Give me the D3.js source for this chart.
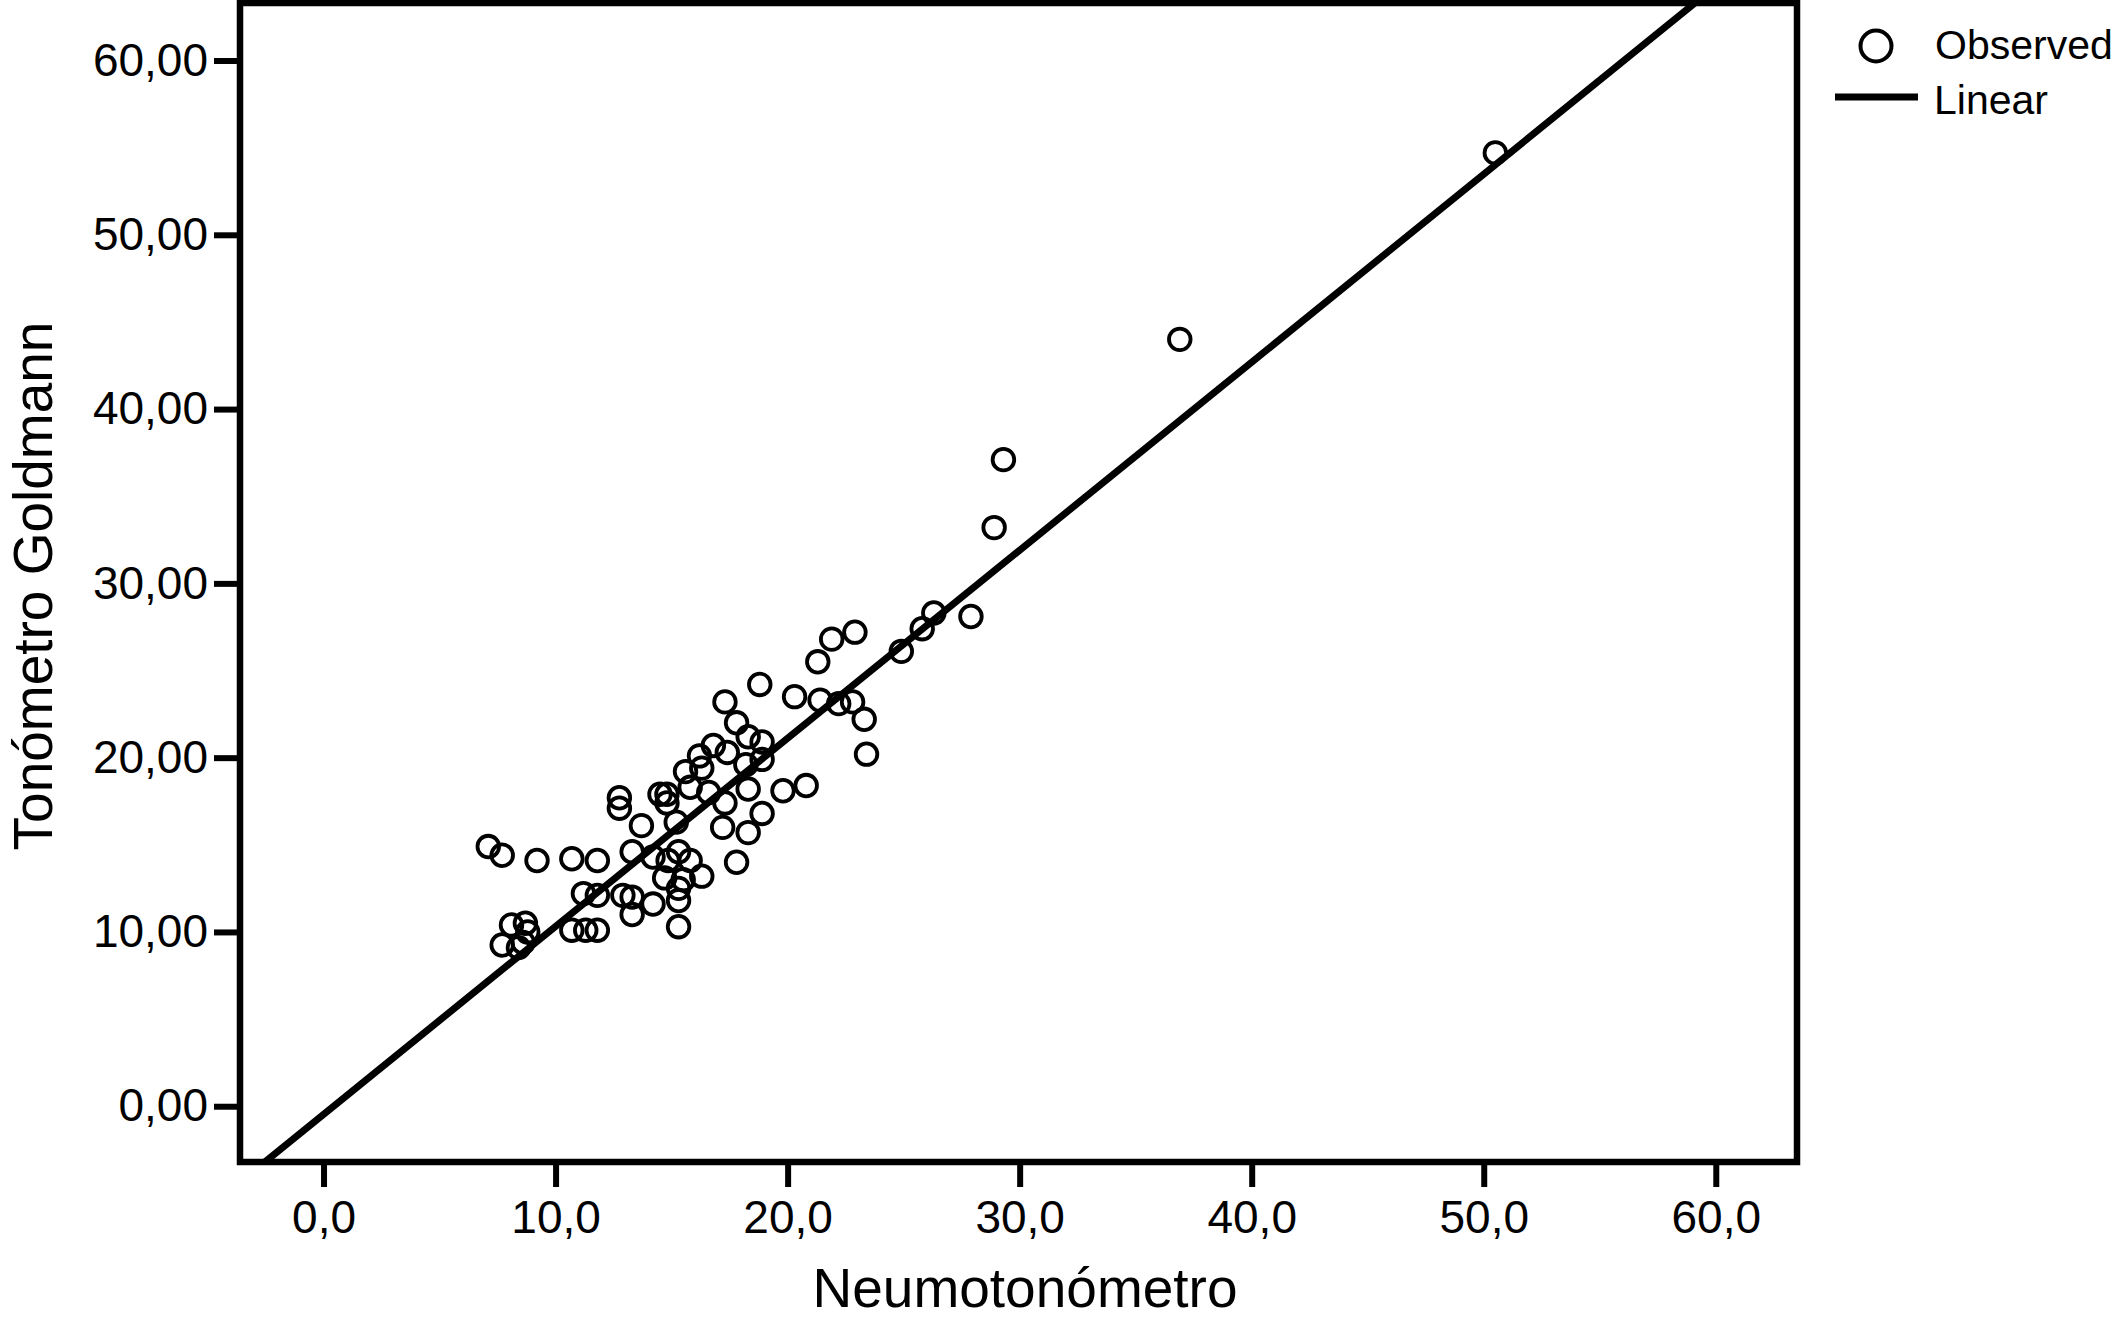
<!DOCTYPE html>
<html>
<head>
<meta charset="utf-8">
<script src="https://cdn.jsdelivr.net/npm/d3@7"></script>
<style>
  html, body { margin: 0; padding: 0; background: #fff; }
  svg { display: block; font-family: "Liberation Sans", Arial, Helvetica, sans-serif; }
</style>
</head>
<body>
<svg id="chart" width="2118" height="1319"></svg>
<script>
// ---- Data ----
const neumo = [
  50.5, 36.9, 29.3, 28.9, 27.9, 26.3, 25.8, 24.9, 22.9, 21.9, 21.3,
  22.8, 22.2, 21.4, 20.3, 23.3, 23.4, 18.8, 17.3,
  17.8, 18.3, 18.9, 16.8, 16.2, 17.4, 18.9, 15.6, 16.3, 18.2,
  20.8, 19.8, 18.3, 17.3, 18.9, 17.2, 18.3, 17.8, 16.3,
  15.8, 16.6, 14.5, 14.8, 14.8, 12.75, 12.75, 13.7, 15.2,
  13.3, 14.2, 14.85, 15.3, 15.8, 14.7, 15.5, 15.3, 15.3, 15.3,
  11.2, 11.8, 12.9, 13.3, 13.3, 14.2,
  7.1, 7.7, 9.2, 10.7, 11.8,
  8.1, 8.7, 7.7, 8.6, 8.8, 8.4, 10.7, 11.3, 11.8
];
const goldmann = [
  54.7, 44.0, 37.1, 33.2, 28.1, 28.3, 27.4, 26.1, 27.2, 26.8, 25.5,
  23.2, 23.1, 23.3, 23.5, 22.2, 20.2, 24.2, 23.2,
  22.0, 21.2, 20.9, 20.7, 20.1, 20.3, 19.9, 19.2, 19.4, 19.6,
  18.4, 18.1, 18.2, 17.4, 16.8, 16.0, 15.7, 14.0, 13.2,
  18.3, 18.0, 17.9, 17.9, 17.4, 17.7, 17.1, 16.1, 16.3,
  14.6, 14.3, 14.1, 14.6, 14.1, 13.1, 13.0, 12.5, 11.8, 10.3,
  12.2, 12.1, 12.1, 12.0, 11.0, 11.6,
  14.9, 14.4, 14.1, 14.2, 14.1,
  10.4, 10.5, 9.25, 9.4, 10.0, 9.1, 10.1, 10.1, 10.1
];
const xTicks = [0, 10, 20, 30, 40, 50, 60];
const yTicks = [0, 10, 20, 30, 40, 50, 60];
const fitIntercept = -0.47;
const fitSlope = 1.079;
const xTitle = "Neumotonómetro";
const yTitle = "Tonómetro Goldmann";
const legendLabels = ["Observed", "Linear"];

// ---- Layout ----
const svg = d3.select("#chart");
const plot = { left: 240, right: 1797, top: 3, bottom: 1162 };
const x = d3.scaleLinear().domain([-3.6, 63.5]).range([plot.left, plot.right]);
const y = d3.scaleLinear().domain([-3.2, 63.3]).range([plot.bottom, plot.top]);

svg.append("rect").attr("width", 2118).attr("height", 1319).attr("fill", "#fff");

svg.append("clipPath").attr("id", "clip")
  .append("rect")
  .attr("x", plot.left).attr("y", plot.top)
  .attr("width", plot.right - plot.left).attr("height", plot.bottom - plot.top);

// Axes
const fmtY = d => d3.format(".2f")(d).replace(".", ",");
const fmtX = d => d3.format(".1f")(d).replace(".", ",");

const yAxis = svg.append("g")
  .attr("transform", `translate(${plot.left},0)`)
  .call(d3.axisLeft(y).tickValues(yTicks).tickFormat(fmtY).tickSize(26).tickPadding(6));
yAxis.select(".domain").remove();
yAxis.selectAll(".tick line").attr("stroke", "#000").attr("stroke-width", 6);
yAxis.selectAll(".tick text").attr("font-size", 46).attr("fill", "#000")
  .attr("font-family", "'Liberation Sans', Arial, sans-serif");

const xAxis = svg.append("g")
  .attr("transform", `translate(0,${plot.bottom})`)
  .call(d3.axisBottom(x).tickValues(xTicks).tickFormat(fmtX).tickSize(25).tickPadding(13));
xAxis.select(".domain").remove();
xAxis.selectAll(".tick line").attr("stroke", "#000").attr("stroke-width", 6);
xAxis.selectAll(".tick text").attr("font-size", 46).attr("fill", "#000")
  .attr("font-family", "'Liberation Sans', Arial, sans-serif");

// Points
svg.append("g").attr("clip-path", "url(#clip)")
  .selectAll("circle")
  .data(neumo.map((v, i) => [v, goldmann[i]]))
  .join("circle")
  .attr("cx", d => x(d[0]))
  .attr("cy", d => y(d[1]))
  .attr("r", 10.8)
  .attr("fill", "none")
  .attr("stroke", "#000")
  .attr("stroke-width", 3.8);

// Fit line
const xd = x.domain();
svg.append("line")
  .attr("clip-path", "url(#clip)")
  .attr("x1", x(xd[0])).attr("y1", y(fitIntercept + fitSlope * xd[0]))
  .attr("x2", x(xd[1])).attr("y2", y(fitIntercept + fitSlope * xd[1]))
  .attr("stroke", "#000").attr("stroke-width", 7);

// Frame
svg.append("rect")
  .attr("x", plot.left).attr("y", plot.top)
  .attr("width", plot.right - plot.left).attr("height", plot.bottom - plot.top)
  .attr("fill", "none").attr("stroke", "#000").attr("stroke-width", 6.5);

// Titles
svg.append("text")
  .attr("x", 1025).attr("y", 1307)
  .attr("text-anchor", "middle").attr("font-size", 55).attr("fill", "#000")
  .text(xTitle);
svg.append("text")
  .attr("transform", "translate(52,586) rotate(-90)")
  .attr("text-anchor", "middle").attr("font-size", 55).attr("fill", "#000")
  .text(yTitle);

// Legend
const lg = svg.append("g");
lg.append("circle").attr("cx", 1876).attr("cy", 46).attr("r", 15.5)
  .attr("fill", "none").attr("stroke", "#000").attr("stroke-width", 4);
lg.append("text").attr("x", 1935).attr("y", 59).attr("font-size", 41).attr("fill", "#000")
  .text(legendLabels[0]);
lg.append("line").attr("x1", 1835).attr("x2", 1918).attr("y1", 97).attr("y2", 97)
  .attr("stroke", "#000").attr("stroke-width", 7);
lg.append("text").attr("x", 1934).attr("y", 114).attr("font-size", 41).attr("fill", "#000")
  .text(legendLabels[1]);
</script>
</body>
</html>
